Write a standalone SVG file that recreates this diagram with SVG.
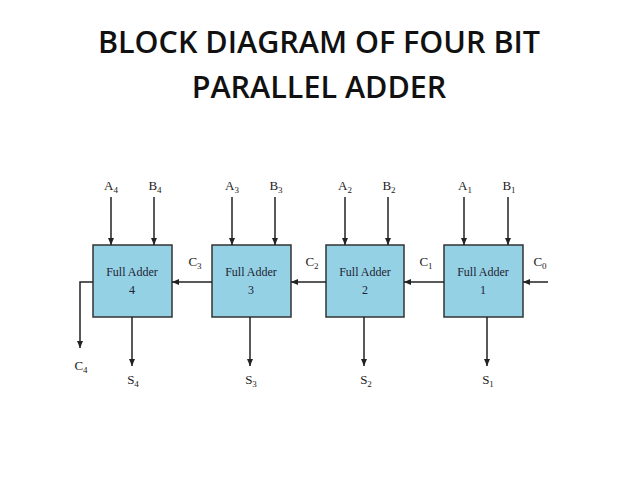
<svg xmlns="http://www.w3.org/2000/svg" width="638" height="485" viewBox="0 0 638 485">
<defs><marker id="ah" markerWidth="8" markerHeight="8" refX="7" refY="4" orient="auto" markerUnits="userSpaceOnUse"><path d="M0,1 L7,4 L0,7 Z" fill="#222"/></marker></defs>
<style>
.t{font-family:"Open Sans","Liberation Sans",sans-serif;font-weight:600;font-size:30.5px;fill:#111;text-anchor:middle}
.b{fill:#94d1e4;stroke:#333;stroke-width:1.5}
.bl{font-family:"Liberation Serif",serif;font-size:12px;fill:#223;text-anchor:middle}
.l{font-family:"Liberation Serif",serif;font-size:13px;fill:#222;text-anchor:middle}
.c line,.c path{stroke:#222;stroke-width:1.5;fill:none;marker-end:url(#ah)}
</style>
<rect width="638" height="485" fill="#fff"/>
<text class="t" x="319" y="53">BLOCK DIAGRAM OF FOUR BIT</text>
<text class="t" x="319" y="98">PARALLEL ADDER</text>
<g id="fa4"><rect class="b" x="93" y="245" width="79" height="72"/><text class="bl" x="132" y="276">Full Adder</text><text class="bl" x="132" y="294">4</text></g>
<g id="fa3"><rect class="b" x="212" y="245" width="79" height="72"/><text class="bl" x="251" y="276">Full Adder</text><text class="bl" x="251" y="294">3</text></g>
<g id="fa2"><rect class="b" x="326" y="245" width="78" height="72"/><text class="bl" x="365" y="276">Full Adder</text><text class="bl" x="365" y="294">2</text></g>
<g id="fa1"><rect class="b" x="444" y="245" width="79" height="72"/><text class="bl" x="483" y="276">Full Adder</text><text class="bl" x="483" y="294">1</text></g>
<g class="c">
<line x1="111" y1="197" x2="111" y2="245"/><line x1="154" y1="197" x2="154" y2="245"/>
<line x1="232" y1="197" x2="232" y2="245"/><line x1="275" y1="197" x2="275" y2="245"/>
<line x1="345" y1="197" x2="345" y2="245"/><line x1="388" y1="197" x2="388" y2="245"/>
<line x1="464" y1="197" x2="464" y2="245"/><line x1="508" y1="197" x2="508" y2="245"/>
<line x1="548" y1="282" x2="523" y2="282"/><line x1="444" y1="282" x2="404" y2="282"/>
<line x1="326" y1="282" x2="291" y2="282"/><line x1="212" y1="282" x2="172" y2="282"/>
<path d="M93,282 H80 V348"/>
<line x1="132" y1="317" x2="132" y2="366"/><line x1="250" y1="317" x2="250" y2="366"/>
<line x1="364" y1="317" x2="364" y2="366"/><line x1="487" y1="317" x2="487" y2="366"/>
</g>
<g id="labels" class="l">
<text x="111" y="190">A<tspan font-size="9" dy="3">4</tspan></text><text x="155" y="190">B<tspan font-size="9" dy="3">4</tspan></text>
<text x="232" y="190">A<tspan font-size="9" dy="3">3</tspan></text><text x="276" y="190">B<tspan font-size="9" dy="3">3</tspan></text>
<text x="345" y="190">A<tspan font-size="9" dy="3">2</tspan></text><text x="389" y="190">B<tspan font-size="9" dy="3">2</tspan></text>
<text x="465" y="190">A<tspan font-size="9" dy="3">1</tspan></text><text x="509" y="190">B<tspan font-size="9" dy="3">1</tspan></text>
<text x="195" y="266">C<tspan font-size="9" dy="3">3</tspan></text><text x="312" y="266">C<tspan font-size="9" dy="3">2</tspan></text>
<text x="426" y="266">C<tspan font-size="9" dy="3">1</tspan></text><text x="540" y="266">C<tspan font-size="9" dy="3">0</tspan></text>
<text x="81" y="370">C<tspan font-size="9" dy="3">4</tspan></text>
<text x="133" y="384">S<tspan font-size="9" dy="3">4</tspan></text><text x="251" y="384">S<tspan font-size="9" dy="3">3</tspan></text>
<text x="366" y="384">S<tspan font-size="9" dy="3">2</tspan></text><text x="488" y="384">S<tspan font-size="9" dy="3">1</tspan></text>
</g>
</svg>
